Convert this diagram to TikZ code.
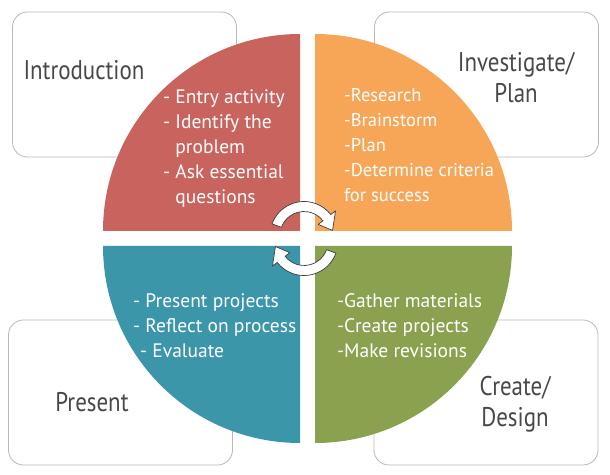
\documentclass[tikz,border=0pt]{standalone}
\usepackage{fontspec}
\setmainfont{PT Sans}
\newfontfamily\labelfont[FakeStretch=0.85]{PT Sans}
\usetikzlibrary{positioning}
\definecolor{introred}{RGB}{201,99,94}
\definecolor{planorange}{RGB}{247,166,88}
\definecolor{presentteal}{RGB}{60,150,170}
\definecolor{creategreen}{RGB}{138,162,79}
\definecolor{boxgray}{RGB}{185,185,185}
\definecolor{labelgray}{RGB}{72,72,72}
\definecolor{arrowedge}{RGB}{60,60,60}

\begin{document}
\begin{tikzpicture}[x=1pt,y=1pt,
  stagebox/.style={draw=boxgray, line width=0.8pt, fill=white, rounded corners=15pt,
    minimum width=224pt, minimum height=145pt, inner sep=0pt},
  stagelabel/.style={font=\labelfont\fontsize{27}{31}\selectfont, text=labelgray,
    align=center, inner sep=0pt},
  listtext/.style={font=\fontsize{19.5}{25}\selectfont, text=white, align=left,
    anchor=north west, inner sep=0pt},
  turnarrow/.style={fill=white, draw=arrowedge, line width=0.7pt, line join=round}]
\fill[white] (0,0) rectangle (610,474);
\useasboundingbox (0,0) rectangle (610,474);

% boxes behind the circle
\node[stagebox] (introbox) at (124.5,389.5) {};
\node[stagebox] (planbox) at (486.5,389.5) {};
\node[stagebox] (presentbox) at (120.5,81.5) {};
\node[stagebox] (createbox) at (486,81.5) {};

% the four quarters
\fill[introred] (300,243) -- (103,243) arc[start angle=180, end angle=90, radius=197] -- cycle;
\fill[planorange] (315,243) -- (315,440) arc[start angle=90, end angle=0, radius=197] -- cycle;
\fill[presentteal] (300,228) -- (300,31) arc[start angle=270, end angle=180, radius=197] -- cycle;
\fill[creategreen] (315,228) -- (512,228) arc[start angle=0, end angle=-90, radius=197] -- cycle;

% stage names
\node[stagelabel, anchor=base] (intro) at (84,394) {Introduction};
\node[stagelabel, anchor=north] (plan) at (516,422) {Investigate/\\Plan};
\node[stagelabel, anchor=base] (present) at (92,63) {Present};
\node[stagelabel, anchor=north] (create) at (515,98) {Create/\\Design};

% lists
\node[listtext] (introlist) at (163,385) {- Entry activity\\- Identify the\\\hphantom{- }problem\\- Ask essential\\\hphantom{- }questions};
\node[listtext, font=\fontsize{18.5}{25}\selectfont] (planlist) at (344,385.5) {-Research\\-Brainstorm\\-Plan\\-Determine criteria\\for success};
\node[listtext] (presentlist) at (133,181) {- Present projects\\- Reflect on process\\\hspace{7pt}- Evaluate};
\node[listtext] (createlist) at (337,181) {-Gather materials\\-Create projects\\-Make revisions};

% cycle arrows
\foreach \turn in {0,180}{
  \begin{scope}[shift={(304,235.5)}, rotate=\turn, yshift=3pt]
    \filldraw[turnarrow] (160:34) arc[start angle=160, end angle=38, radius=34]
      -- (38:40) -- (10:29) -- (38:18) -- (38:24)
      arc[start angle=38, end angle=160, radius=24] -- cycle;
  \end{scope}
}
\end{tikzpicture}
\end{document}
